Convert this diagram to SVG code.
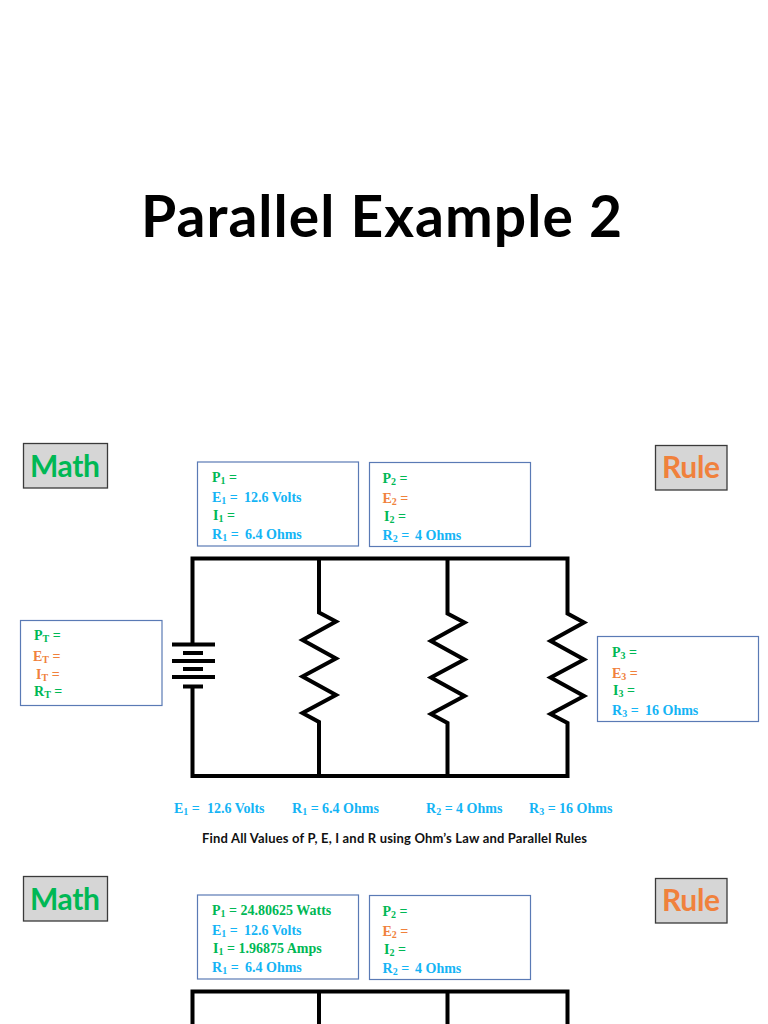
<svg xmlns="http://www.w3.org/2000/svg" width="768" height="1024" viewBox="0 0 768 1024">
<style>
.bg{fill:#fff}
.w{fill:none;stroke:#000;stroke-width:4;stroke-linejoin:miter}
.box{fill:#fff;stroke:#5a7ab5;stroke-width:1.2}
.tag{fill:#d6d6d6;stroke:#3a3a3a;stroke-width:1.3}
.tt{font-family:Lato,"Open Sans",sans-serif;font-weight:700}
.m{font-family:"Liberation Serif",serif;font-size:14px;font-weight:700}
.s{font-size:10px}
.g{fill:#00b855}.b{fill:#14b4f5}.o{fill:#f0813c}
</style>
<defs>
<g id="mathTag"><rect class="tag" x="0" y="0" width="84" height="44.5"/><text class="tt g" x="6.5" y="33" font-size="30" textLength="70">Math</text></g>
<g id="ruleTag"><rect class="tag" x="0" y="0" width="71.5" height="44.5"/><text class="tt o" x="6.5" y="32" font-size="30" textLength="58">Rule</text></g>
</defs>
<rect class="bg" width="768" height="1024"/>
<text id="title" class="tt" x="141" y="237" font-size="57" fill="#000" textLength="481">Parallel Example 2</text>

<g id="connectors">
<path class="w" d="M192.500 644V558.500H567.500V613.500L584 622.500L550.500 641L584 659.500L550.500 677.500L584 696L550.500 714L567.500 723V776H192.500V686"/>
<path class="w" d="M319 558.500V612.500L336 621.500L302.500 640L336 658.500L302.500 676.500L336 695L302.500 713L319 722V776"/>
<path class="w" d="M447.500 558.500V613.500L464.500 622.500L431 641L464.500 659.500L431 677.500L464.500 696L431 714L447.500 723V776"/>
<path class="w" d="M172 644.500H215M183 653H203M172 661H215M183 669H203M172 677H215M183 686.500H203"/>
<path class="w" d="M192.500 1024V991.500H567.500V1024M319 991.500V1024M447.500 991.500V1024"/>
</g>

<g id="math-1"><use href="#mathTag" x="23.500" y="443.500"/></g>
<g id="rule-1"><use href="#ruleTag" x="655.500" y="445.500"/></g>
<g id="math-2"><use href="#mathTag" x="23.500" y="876.500"/></g>
<g id="rule-2"><use href="#ruleTag" x="655.500" y="878.500"/></g>

<g id="box-r1-top"><rect class="box" x="197.500" y="462" width="161" height="84"/>
<text class="m g" x="212" y="482">P<tspan class="s" dy="2">1</tspan><tspan dy="-2"> =</tspan></text>
<text class="m b" x="212" y="502">E<tspan class="s" dy="2">1</tspan><tspan dy="-2"> =</tspan><tspan x="244">12.6 Volts</tspan></text>
<text class="m g" x="213" y="520">I<tspan class="s" dy="2">1</tspan><tspan dy="-2"> =</tspan></text>
<text class="m b" x="212" y="539">R<tspan class="s" dy="2">1</tspan><tspan dy="-2"> =</tspan><tspan x="245">6.4 Ohms</tspan></text></g>

<g id="box-r2-top"><rect class="box" x="369.500" y="462.500" width="161" height="84"/>
<text class="m g" x="382.500" y="483">P<tspan class="s" dy="2">2</tspan><tspan dy="-2"> =</tspan></text>
<text class="m o" x="382.500" y="503">E<tspan class="s" dy="2">2</tspan><tspan dy="-2"> =</tspan></text>
<text class="m g" x="384" y="521">I<tspan class="s" dy="2">2</tspan><tspan dy="-2"> =</tspan></text>
<text class="m b" x="382.500" y="540">R<tspan class="s" dy="2">2</tspan><tspan dy="-2"> =</tspan><tspan x="415">4 Ohms</tspan></text></g>

<g id="box-total"><rect class="box" x="20.500" y="620.500" width="141.500" height="85"/>
<text class="m g" x="34" y="640">P<tspan class="s" dy="2">T</tspan><tspan dy="-2"> =</tspan></text>
<text class="m o" x="33" y="661">E<tspan class="s" dy="2">T</tspan><tspan dy="-2"> =</tspan></text>
<text class="m o" x="36" y="679">I<tspan class="s" dy="2">T</tspan><tspan dy="-2"> =</tspan></text>
<text class="m g" x="34" y="696">R<tspan class="s" dy="2">T</tspan><tspan dy="-2"> =</tspan></text></g>

<g id="box-r3"><rect class="box" x="597.500" y="636.500" width="161" height="85"/>
<text class="m g" x="612" y="657">P<tspan class="s" dy="2">3</tspan><tspan dy="-2"> =</tspan></text>
<text class="m o" x="612" y="678">E<tspan class="s" dy="2">3</tspan><tspan dy="-2"> =</tspan></text>
<text class="m g" x="613" y="695">I<tspan class="s" dy="2">3</tspan><tspan dy="-2"> =</tspan></text>
<text class="m b" x="612" y="715">R<tspan class="s" dy="2">3</tspan><tspan dy="-2"> =</tspan><tspan x="645">16 Ohms</tspan></text></g>

<g id="given-values">
<text class="m b" x="174" y="813">E<tspan class="s" dy="2">1</tspan><tspan dy="-2"> =</tspan><tspan x="207">12.6 Volts</tspan></text>
<text class="m b" x="292" y="813">R<tspan class="s" dy="2">1</tspan><tspan dy="-2"> = 6.4 Ohms</tspan></text>
<text class="m b" x="426" y="813">R<tspan class="s" dy="2">2</tspan><tspan dy="-2"> = 4 Ohms</tspan></text>
<text class="m b" x="529" y="813">R<tspan class="s" dy="2">3</tspan><tspan dy="-2"> = 16 Ohms</tspan></text>
</g>
<text id="instruction" class="tt" x="202" y="843" font-size="13" fill="#111" textLength="385">Find All Values of P, E, I and R using Ohm’s Law and Parallel Rules</text>

<g id="box-r1-bottom"><rect class="box" x="197.500" y="895" width="161" height="84"/>
<text class="m g" x="212" y="915">P<tspan class="s" dy="2">1</tspan><tspan dy="-2"> = 24.80625 Watts</tspan></text>
<text class="m b" x="212" y="935">E<tspan class="s" dy="2">1</tspan><tspan dy="-2"> =</tspan><tspan x="244">12.6 Volts</tspan></text>
<text class="m g" x="213" y="953">I<tspan class="s" dy="2">1</tspan><tspan dy="-2"> = 1.96875 Amps</tspan></text>
<text class="m b" x="212" y="972">R<tspan class="s" dy="2">1</tspan><tspan dy="-2"> =</tspan><tspan x="245">6.4 Ohms</tspan></text></g>

<g id="box-r2-bottom"><rect class="box" x="369.500" y="895.500" width="161" height="84"/>
<text class="m g" x="382.500" y="916">P<tspan class="s" dy="2">2</tspan><tspan dy="-2"> =</tspan></text>
<text class="m o" x="382.500" y="936">E<tspan class="s" dy="2">2</tspan><tspan dy="-2"> =</tspan></text>
<text class="m g" x="384" y="954">I<tspan class="s" dy="2">2</tspan><tspan dy="-2"> =</tspan></text>
<text class="m b" x="382.500" y="973">R<tspan class="s" dy="2">2</tspan><tspan dy="-2"> =</tspan><tspan x="415">4 Ohms</tspan></text></g>
</svg>
